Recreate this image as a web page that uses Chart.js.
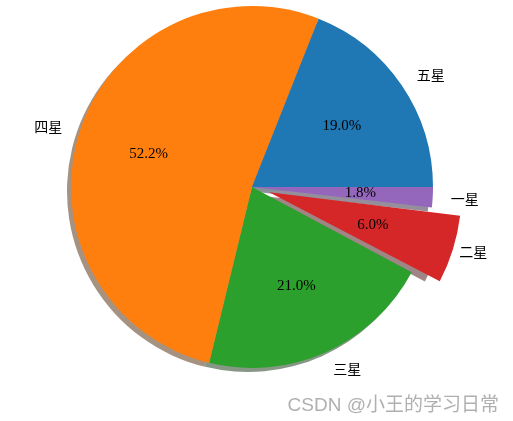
<!DOCTYPE html>
<html>
<head>
<meta charset="utf-8">
<script src="https://cdn.jsdelivr.net/npm/chart.js@4/dist/chart.umd.min.js"></script>
<style>
  html, body { margin: 0; padding: 0; background: #fff; }
  #wrap { position: relative; width: 513px; height: 421px; }
  #watermark {
    position: absolute; right: 14px; top: 389px;
    font: 19px "Liberation Sans", Arial, "Noto Sans CJK SC", sans-serif;
    color: #b0b0b0; white-space: nowrap;
    text-shadow: 1px 1px 1px #fff;
  }
</style>
</head>
<body>
<div id="wrap">
  <canvas id="pie" width="513" height="421"></canvas>
  <div id="watermark">CSDN @小王的学习日常</div>
</div>
<script>
// --- data ---
const categories = ['五星', '四星', '三星', '二星', '一星'];
const shares = [19.0, 52.2, 21.0, 6.0, 1.8];
const colors = ['#1f77b4', '#ff7f0e', '#2ca02c', '#d62728', '#9467bd'];
const pulledOut = '二星';

// matplotlib goes counterclockwise from 3 o'clock; Chart.js goes clockwise,
// so feed the slices in reverse order and start at 90deg
const labelsCw = categories.slice().reverse();
const sharesCw = shares.slice().reverse();
const colorsCw = colors.slice().reverse();

const PULL = 72;  // chart.js offset units (translation is offset/4)

function shadow(hex) {
  const n = parseInt(hex.slice(1), 16);
  const r = (n >> 16) & 255, g = (n >> 8) & 255, b = n & 255;
  return `rgba(${Math.round(r * 0.3)},${Math.round(g * 0.3)},${Math.round(b * 0.3)},0.5)`;
}

function arcGeom(arc) {
  const p = arc.getProps(['x', 'y', 'startAngle', 'endAngle', 'outerRadius'], true);
  const mid = (p.startAngle + p.endAngle) / 2;
  const shift = (arc.options.offset || 0) / 4;
  return { ...p, mid, cx: p.x + shift * Math.cos(mid), cy: p.y + shift * Math.sin(mid) };
}

const pieDecor = {
  id: 'pieDecor',
  beforeDatasetsDraw(chart) {
    const ctx = chart.ctx;
    ctx.save();
    chart.getDatasetMeta(0).data.forEach((arc, i) => {
      const g = arcGeom(arc);
      const sx = g.cx - 4, sy = g.cy + 4;
      ctx.beginPath();
      ctx.moveTo(sx, sy);
      ctx.arc(sx, sy, g.outerRadius, g.startAngle, g.endAngle);
      ctx.closePath();
      ctx.fillStyle = shadow(colorsCw[i]);
      ctx.fill();
    });
    ctx.restore();
  },
  afterDatasetsDraw(chart) {
    const ctx = chart.ctx;
    const total = sharesCw.reduce((a, b) => a + b, 0);
    ctx.save();
    ctx.fillStyle = '#000';
    ctx.textBaseline = 'middle';
    chart.getDatasetMeta(0).data.forEach((arc, i) => {
      const g = arcGeom(arc);
      const cos = Math.cos(g.mid), sin = Math.sin(g.mid);
      // category label at 1.1 r
      const lx = g.cx + 1.1 * g.outerRadius * cos;
      const ly = g.cy + 1.1 * g.outerRadius * sin;
      ctx.font = '14px "Noto Sans CJK SC", sans-serif';
      ctx.textAlign = cos >= 0 ? 'left' : 'right';
      ctx.fillText(labelsCw[i], lx, ly);
      // percentage at 0.6 r
      const px = g.cx + 0.6 * g.outerRadius * cos;
      const py = g.cy + 0.6 * g.outerRadius * sin;
      ctx.font = '15px "Liberation Serif", "DejaVu Serif", serif';
      ctx.textAlign = 'center';
      ctx.fillText((sharesCw[i] / total * 100).toFixed(1) + '%', px, py);
    });
    ctx.restore();
  }
};

new Chart(document.getElementById('pie'), {
  type: 'pie',
  data: {
    labels: labelsCw,
    datasets: [{
      data: sharesCw,
      backgroundColor: colorsCw,
      borderWidth: 0,
      hoverOffset: 0,
      offset: labelsCw.map(l => l === pulledOut ? PULL : 0),
      radius: 181
    }]
  },
  options: {
    responsive: false,
    animation: false,
    rotation: 90,
    layout: { padding: { top: 0, bottom: 47, left: 0, right: 9 } },
    plugins: {
      legend: { display: false },
      tooltip: { enabled: false }
    }
  },
  plugins: [pieDecor]
});
</script>
</body>
</html>
